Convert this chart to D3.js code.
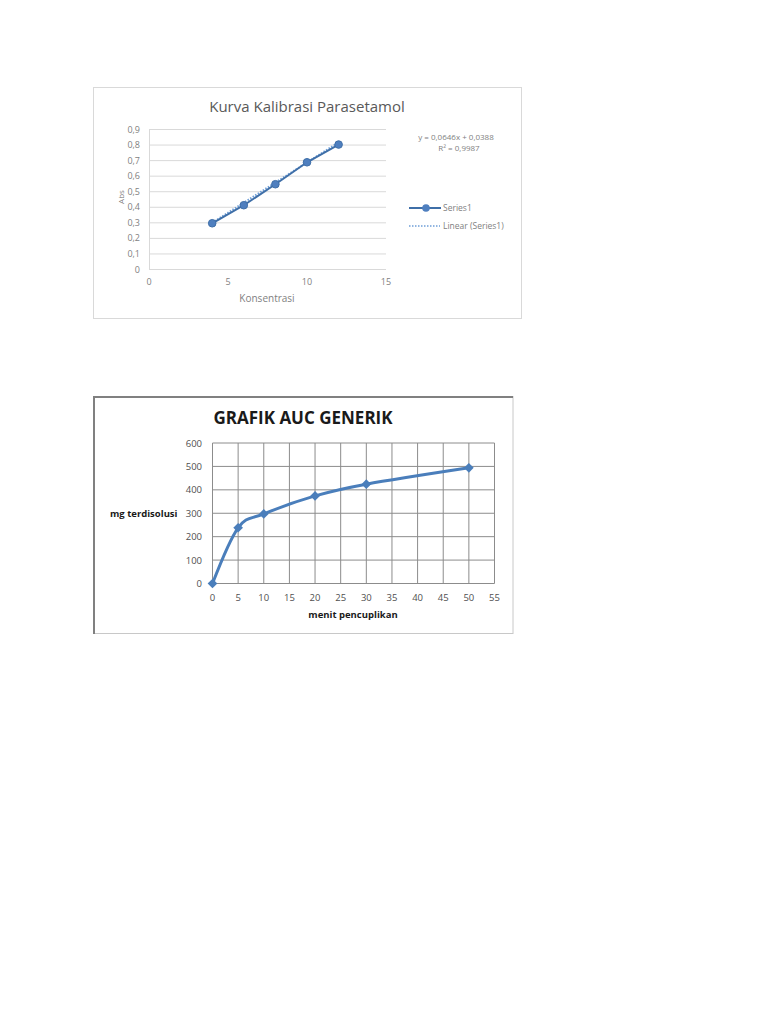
<!DOCTYPE html>
<html>
<head>
<meta charset="utf-8">
<script src="https://cdn.jsdelivr.net/npm/d3@7"></script>
<style>
  html, body { margin: 0; padding: 0; background: #fff; }
  svg { display: block; }
  text { font-family: "Open Sans", "Noto Sans", sans-serif; }
</style>
</head>
<body>
<svg id="page" width="768" height="1024"></svg>
<script>
// --- chart 1: calibration curve ---
const calibConc = [4, 6, 8, 10, 12];
const calibAbs = [0.294, 0.41, 0.545, 0.686, 0.80];
const calibXTicks = [0, 5, 10, 15];
const calibYTicks = [0, 0.1, 0.2, 0.3, 0.4, 0.5, 0.6, 0.7, 0.8, 0.9];
const trendSlope = 0.0646, trendIntercept = 0.0388;
const trendLabel = "y = 0,0646x + 0,0388";
const r2Label = "R² = 0,9987";

// --- chart 2: dissolution AUC ---
const aucMinutes = [0, 5, 10, 20, 30, 50];
const aucMg = [0, 238, 297, 374, 424, 494];
const aucXTicks = [0, 5, 10, 15, 20, 25, 30, 35, 40, 45, 50, 55];
const aucYTicks = [0, 100, 200, 300, 400, 500, 600];

const svg = d3.select("#page");
svg.append("rect").attr("width", 768).attr("height", 1024).attr("fill", "#fff");

const comma = (d) => String(d).replace(".", ",");

// ---------- chart 1 ----------
{
  const g = svg.append("g");
  g.append("rect").attr("x", 93.5).attr("y", 87.5).attr("width", 428).attr("height", 231)
    .attr("fill", "#fff").attr("stroke", "#d9d9d9");

  const x = d3.scaleLinear().domain([0, 15]).range([149, 386]);
  const y = d3.scaleLinear().domain([0, 0.9]).range([269, 129]);

  g.selectAll("line.grid").data(calibYTicks).join("line").attr("class", "grid")
    .attr("x1", x(0)).attr("x2", x(15)).attr("y1", (d) => y(d) + 0.5).attr("y2", (d) => y(d) + 0.5)
    .attr("stroke", "#d9d9d9");
  g.append("line").attr("x1", x(0) + 0.5).attr("x2", x(0) + 0.5).attr("y1", y(0.9)).attr("y2", y(0))
    .attr("stroke", "#d9d9d9");

  g.selectAll("text.yt").data(calibYTicks).join("text").attr("class", "yt")
    .attr("x", 140).attr("y", (d) => y(d) + 3.5).attr("text-anchor", "end")
    .attr("font-size", 9).attr("fill", "#7f7f7f").text(comma);
  g.selectAll("text.xt").data(calibXTicks).join("text").attr("class", "xt")
    .attr("x", (d) => x(d)).attr("y", 285).attr("text-anchor", "middle")
    .attr("font-size", 9).attr("fill", "#7f7f7f").text((d) => d);

  g.append("text").attr("x", 307).attr("y", 112).attr("text-anchor", "middle")
    .attr("font-size", 15).attr("fill", "#595959").text("Kurva Kalibrasi Parasetamol");
  g.append("text").attr("x", 267).attr("y", 302).attr("text-anchor", "middle")
    .attr("font-size", 10).attr("fill", "#7f7f7f").text("Konsentrasi");
  g.append("text").attr("transform", "translate(124,197) rotate(-90)").attr("text-anchor", "middle")
    .attr("font-size", 8).attr("fill", "#7f7f7f").text("Abs");

  // trendline
  const tx = [calibConc[0], calibConc[calibConc.length - 1]];
  g.append("line")
    .attr("x1", x(tx[0])).attr("y1", y(trendSlope * tx[0] + trendIntercept))
    .attr("x2", x(tx[1])).attr("y2", y(trendSlope * tx[1] + trendIntercept))
    .attr("stroke", "#6f9fd8").attr("stroke-width", 2).attr("stroke-dasharray", "1.5,1.5");

  const pts = calibConc.map((c, i) => [c, calibAbs[i]]);
  g.append("path").datum(pts)
    .attr("d", d3.line().x((d) => x(d[0])).y((d) => y(d[1])))
    .attr("fill", "none").attr("stroke", "#3f6fa8").attr("stroke-width", 2);
  g.selectAll("circle.pt").data(pts).join("circle").attr("class", "pt")
    .attr("cx", (d) => x(d[0])).attr("cy", (d) => y(d[1])).attr("r", 3.8)
    .attr("fill", "#4f7fbf").attr("stroke", "#3f6fa8").attr("stroke-width", 1);

  g.append("text").attr("x", 456).attr("y", 140).attr("text-anchor", "middle")
    .attr("font-size", 8).attr("fill", "#7f7f7f").text(trendLabel);
  g.append("text").attr("x", 459).attr("y", 151).attr("text-anchor", "middle")
    .attr("font-size", 8).attr("fill", "#7f7f7f").text(r2Label);

  // legend
  g.append("line").attr("x1", 409).attr("x2", 441).attr("y1", 208).attr("y2", 208)
    .attr("stroke", "#3f6fa8").attr("stroke-width", 2);
  g.append("circle").attr("cx", 426).attr("cy", 208).attr("r", 3.8).attr("fill", "#4f7fbf");
  g.append("text").attr("x", 443).attr("y", 211).attr("font-size", 8.5).attr("fill", "#7f7f7f").text("Series1");
  g.append("line").attr("x1", 409).attr("x2", 440).attr("y1", 226).attr("y2", 226)
    .attr("stroke", "#6f9fd8").attr("stroke-width", 1.5).attr("stroke-dasharray", "1.5,1.5");
  g.append("text").attr("x", 443).attr("y", 229).attr("font-size", 8.5).attr("fill", "#7f7f7f").text("Linear (Series1)");
}

// ---------- chart 2 ----------
{
  const g = svg.append("g");
  g.append("rect").attr("x", 94).attr("y", 396.5).attr("width", 419).attr("height", 237)
    .attr("fill", "#fff").attr("stroke", "#c8c8c8");
  g.append("path").attr("d", "M94,634 V397 H513").attr("fill", "none")
    .attr("stroke", "#808080").attr("stroke-width", 2);

  const x = d3.scaleLinear().domain([0, 55]).range([212.5, 494.5]);
  const y = d3.scaleLinear().domain([0, 600]).range([583.5, 443]);

  g.selectAll("line.hg").data(aucYTicks).join("line").attr("class", "hg")
    .attr("x1", x(0)).attr("x2", x(55)).attr("y1", (d) => y(d)).attr("y2", (d) => y(d))
    .attr("stroke", "#8c8c8c");
  g.selectAll("line.vg").data(aucXTicks).join("line").attr("class", "vg")
    .attr("x1", (d) => x(d)).attr("x2", (d) => x(d)).attr("y1", y(600)).attr("y2", y(0))
    .attr("stroke", "#8c8c8c");

  g.selectAll("text.yt").data(aucYTicks).join("text").attr("class", "yt")
    .attr("x", 202).attr("y", (d) => y(d) + 3.5).attr("text-anchor", "end")
    .attr("font-size", 9.5).attr("fill", "#505050").text((d) => d);
  g.selectAll("text.xt").data(aucXTicks).join("text").attr("class", "xt")
    .attr("x", (d) => x(d)).attr("y", 601).attr("text-anchor", "middle")
    .attr("font-size", 9.5).attr("fill", "#505050").text((d) => d);

  g.append("text").attr("x", 303).attr("y", 424).attr("text-anchor", "middle")
    .attr("font-size", 17).attr("font-weight", 700).attr("fill", "#1a1a1a").text("GRAFIK AUC GENERIK");
  g.append("text").attr("x", 353).attr("y", 618).attr("text-anchor", "middle")
    .attr("font-size", 9.5).attr("font-weight", 700).attr("fill", "#1a1a1a").text("menit pencuplikan");
  g.append("text").attr("x", 110).attr("y", 517).attr("font-size", 9.5)
    .attr("font-weight", 700).attr("fill", "#1a1a1a").text("mg terdisolusi");

  // Excel-style smoothed line: uniform Catmull-Rom
  const pts = aucMinutes.map((m, i) => [m, aucMg[i]]);
  g.append("path").datum(pts)
    .attr("d", d3.line().x((d) => x(d[0])).y((d) => y(d[1])).curve(d3.curveCatmullRom.alpha(0)))
    .attr("fill", "none").attr("stroke", "#4a7ebb").attr("stroke-width", 3);
  g.selectAll("path.mk").data(pts).join("path").attr("class", "mk")
    .attr("transform", (d) => `translate(${x(d[0])},${y(d[1])})`)
    .attr("d", d3.symbol().type(d3.symbolDiamond2).size(60))
    .attr("fill", "#4a7ebb");
}
</script>
</body>
</html>
